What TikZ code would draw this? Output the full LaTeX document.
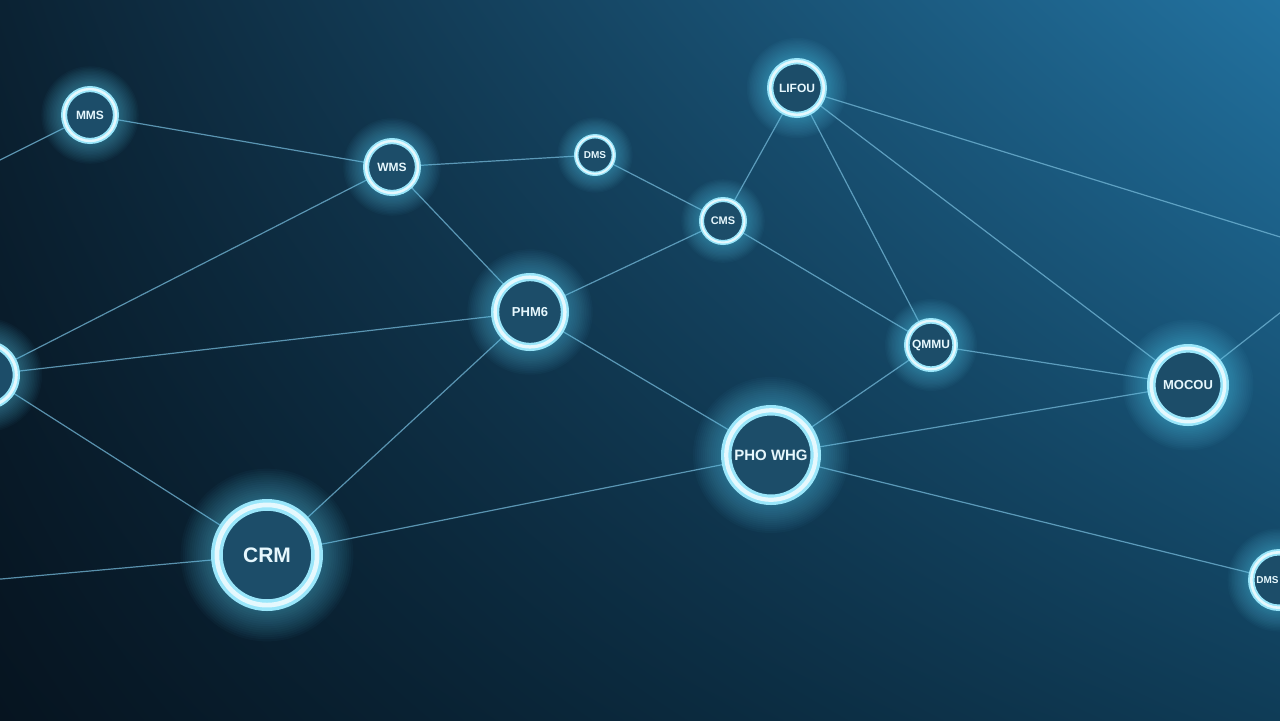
\documentclass[tikz,border=0pt]{standalone}
\usepackage{fontspec}
\setsansfont{Liberation Sans}
\usetikzlibrary{shadings}
\pgfdeclarelayer{bgl}
\pgfdeclarelayer{edgel}
\pgfdeclarelayer{glowl}
\pgfsetlayers{bgl,edgel,glowl,main}
\definecolor{bgTL}{HTML}{0B2233}
\definecolor{bgTR}{HTML}{2272A0}
\definecolor{bgBL}{HTML}{061420}
\definecolor{bgBR}{HTML}{0F3C57}
\definecolor{edgec}{HTML}{74B8D8}
\definecolor{glowc}{HTML}{5FD6FA}
\definecolor{ringc}{HTML}{9AE6FA}
\definecolor{innerc}{HTML}{1C4D69}
\tikzset{
  link/.style={draw=edgec, line width=0.6pt, opacity=0.75},
  ringnode/.style={circle, draw=ringc, fill=innerc, inner sep=0pt, text=white!90!cyan},
  glowdisk/.style={fill=glowc, opacity=0.032}
}
% #1 name, #2 x, #3 y, #4 outer radius (px), #5 label, #6 font size (pt)
\newcommand{\netnode}[6]{%
  \pgfmathsetmacro{\rw}{0.21*#4}%
  \begin{pgfonlayer}{glowl}
    \foreach \k in {1,...,14}{%
      \fill[glowdisk] (#2,#3) circle [radius={(#4+(0.028*#4+0.6)*\k)*0.5pt}];
    }
  \end{pgfonlayer}
  \node[ringnode, line width=\rw*0.5pt, minimum size={(2*#4-\rw)*0.5pt},
        font=\sffamily\bfseries\fontsize{#6}{#6}\selectfont] (#1) at (#2,#3) {#5};
  \draw[white, opacity=0.75, line width=\rw*0.2pt] (#1.center) circle [radius={(#4-0.5*\rw)*0.5pt}];
}
\begin{document}
\begin{tikzpicture}[x=0.5pt,y=-0.5pt]
\useasboundingbox (0,0) rectangle (1280,720);
\clip (0,0) rectangle (1280,720);
\begin{pgfonlayer}{bgl}
  \shade[upper left=bgTL, upper right=bgTR, lower left=bgBL, lower right=bgBR] (0,0) rectangle (1280,720);
\end{pgfonlayer}

\netnode{n1}{90}{115}{29}{MMS}{6}
\netnode{n2}{392}{167}{29}{WMS}{6}
\netnode{n3}{595}{155}{21}{DMS}{5}
\netnode{n4}{723}{221}{24}{CMS}{5.5}
\netnode{n5}{797}{88}{30}{LIFOU}{6}
\netnode{n6}{530}{312}{39}{PHM6}{6.5}
\netnode{n7}{-15}{375}{35}{}{6}
\netnode{n8}{931}{345}{27}{QMMU}{6}
\netnode{n9}{1188}{385}{41}{MOCOU}{6.5}
\netnode{n10}{771}{455}{50}{PHO WHG}{7.5}
\netnode{n11}{267}{555}{56}{CRM}{10.5}
\netnode{n12}{1279}{580}{31}{}{6}
\node[anchor=east, inner sep=0pt, text=white!90!cyan, font=\sffamily\bfseries\fontsize{5}{5}\selectfont] (n12label) at (1279,580) {DMS};

\coordinate (e1) at (-10,165);
\coordinate (e2) at (1290,240);
\coordinate (e3) at (1290,305);
\coordinate (e4) at (-10,580);

\begin{pgfonlayer}{edgel}
  \draw[link] (n1.center) -- (e1);
  \draw[link] (n1.center) -- (n2.center);
  \draw[link] (n2.center) -- (n3.center);
  \draw[link] (n2.center) -- (n7.center);
  \draw[link] (n2.center) -- (n6.center);
  \draw[link] (n3.center) -- (n4.center);
  \draw[link] (n4.center) -- (n5.center);
  \draw[link] (n4.center) -- (n6.center);
  \draw[link] (n4.center) -- (n8.center);
  \draw[link] (n5.center) -- (n8.center);
  \draw[link] (n5.center) -- (n9.center);
  \draw[link] (n5.center) -- (e2);
  \draw[link] (n6.center) -- (n7.center);
  \draw[link] (n6.center) -- (n11.center);
  \draw[link] (n6.center) -- (n10.center);
  \draw[link] (n7.center) -- (n11.center);
  \draw[link] (n11.center) -- (e4);
  \draw[link] (n11.center) -- (n10.center);
  \draw[link] (n10.center) -- (n8.center);
  \draw[link] (n10.center) -- (n9.center);
  \draw[link] (n8.center) -- (n9.center);
  \draw[link] (n9.center) -- (e3);
  \draw[link] (n10.center) -- (n12.center);
\end{pgfonlayer}
\end{tikzpicture}
\end{document}
